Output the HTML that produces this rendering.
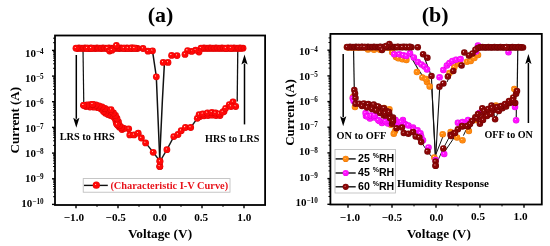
<!DOCTYPE html>
<html><head><meta charset="utf-8"><style>html,body{margin:0;padding:0;background:#fff;}svg{display:block;}</style></head><body>
<svg width="550" height="246" viewBox="0 0 550 246">
<defs>
<radialGradient id="gR" cx="0.5" cy="0.5" r="0.5" fx="0.37" fy="0.36"><stop offset="0" stop-color="#fff2d8"/><stop offset="0.28" stop-color="#ff0808"/><stop offset="0.8" stop-color="#ff0808"/><stop offset="1" stop-color="#dc0000"/></radialGradient>
<radialGradient id="gD" cx="0.5" cy="0.5" r="0.5" fx="0.37" fy="0.36"><stop offset="0" stop-color="#f8dada"/><stop offset="0.28" stop-color="#8a0606"/><stop offset="0.8" stop-color="#8a0606"/><stop offset="1" stop-color="#6a0000"/></radialGradient>
<radialGradient id="gM" cx="0.5" cy="0.5" r="0.5" fx="0.37" fy="0.36"><stop offset="0" stop-color="#ffd0ff"/><stop offset="0.28" stop-color="#ff10ff"/><stop offset="0.8" stop-color="#ff10ff"/><stop offset="1" stop-color="#e000e0"/></radialGradient>
<radialGradient id="gO" cx="0.5" cy="0.5" r="0.5" fx="0.37" fy="0.36"><stop offset="0" stop-color="#ffe0b0"/><stop offset="0.28" stop-color="#ff8a10"/><stop offset="0.8" stop-color="#ff8a10"/><stop offset="1" stop-color="#e87000"/></radialGradient>
</defs>
<rect width="550" height="246" fill="#fff"/>
<text x="160.6" y="22.2" text-anchor="middle" font-family="'Liberation Serif', 'Times New Roman', serif" font-weight="bold" font-size="22">(a)</text>
<text x="435.2" y="22.2" text-anchor="middle" font-family="'Liberation Serif', 'Times New Roman', serif" font-weight="bold" font-size="22">(b)</text>
<rect x="55.0" y="35.5" width="210.1" height="169.5" fill="none" stroke="#000" stroke-width="1.8"/>
<line x1="52.0" y1="50.4" x2="55.0" y2="50.4" stroke="#000" stroke-width="1.4"/>
<text x="43.6" y="56.6" text-anchor="end" font-family="'Liberation Serif', 'Times New Roman', serif" font-weight="bold" font-size="11">10<tspan font-size="7.2" dy="-2.9">−4</tspan></text>
<line x1="52.0" y1="76.1" x2="55.0" y2="76.1" stroke="#000" stroke-width="1.4"/>
<text x="43.6" y="81.7" text-anchor="end" font-family="'Liberation Serif', 'Times New Roman', serif" font-weight="bold" font-size="11">10<tspan font-size="7.2" dy="-2.9">−5</tspan></text>
<line x1="52.0" y1="101.7" x2="55.0" y2="101.7" stroke="#000" stroke-width="1.4"/>
<text x="43.6" y="106.8" text-anchor="end" font-family="'Liberation Serif', 'Times New Roman', serif" font-weight="bold" font-size="11">10<tspan font-size="7.2" dy="-2.9">−6</tspan></text>
<line x1="52.0" y1="127.4" x2="55.0" y2="127.4" stroke="#000" stroke-width="1.4"/>
<text x="43.6" y="132.0" text-anchor="end" font-family="'Liberation Serif', 'Times New Roman', serif" font-weight="bold" font-size="11">10<tspan font-size="7.2" dy="-2.9">−7</tspan></text>
<line x1="52.0" y1="153.1" x2="55.0" y2="153.1" stroke="#000" stroke-width="1.4"/>
<text x="43.6" y="157.1" text-anchor="end" font-family="'Liberation Serif', 'Times New Roman', serif" font-weight="bold" font-size="11">10<tspan font-size="7.2" dy="-2.9">−8</tspan></text>
<line x1="52.0" y1="178.8" x2="55.0" y2="178.8" stroke="#000" stroke-width="1.4"/>
<text x="43.6" y="182.2" text-anchor="end" font-family="'Liberation Serif', 'Times New Roman', serif" font-weight="bold" font-size="11">10<tspan font-size="7.2" dy="-2.9">−9</tspan></text>
<line x1="52.0" y1="204.4" x2="55.0" y2="204.4" stroke="#000" stroke-width="1.4"/>
<text x="43.6" y="207.3" text-anchor="end" font-family="'Liberation Serif', 'Times New Roman', serif" font-weight="bold" font-size="11">10<tspan font-size="7.2" dy="-2.9">−10</tspan></text>
<line x1="53.1" y1="68.3" x2="55.0" y2="68.3" stroke="#000" stroke-width="1.0"/>
<line x1="53.1" y1="63.8" x2="55.0" y2="63.8" stroke="#000" stroke-width="1.0"/>
<line x1="53.1" y1="60.6" x2="55.0" y2="60.6" stroke="#000" stroke-width="1.0"/>
<line x1="53.1" y1="58.1" x2="55.0" y2="58.1" stroke="#000" stroke-width="1.0"/>
<line x1="53.1" y1="56.1" x2="55.0" y2="56.1" stroke="#000" stroke-width="1.0"/>
<line x1="53.1" y1="54.4" x2="55.0" y2="54.4" stroke="#000" stroke-width="1.0"/>
<line x1="53.1" y1="52.9" x2="55.0" y2="52.9" stroke="#000" stroke-width="1.0"/>
<line x1="53.1" y1="51.6" x2="55.0" y2="51.6" stroke="#000" stroke-width="1.0"/>
<line x1="53.1" y1="94.0" x2="55.0" y2="94.0" stroke="#000" stroke-width="1.0"/>
<line x1="53.1" y1="89.5" x2="55.0" y2="89.5" stroke="#000" stroke-width="1.0"/>
<line x1="53.1" y1="86.3" x2="55.0" y2="86.3" stroke="#000" stroke-width="1.0"/>
<line x1="53.1" y1="83.8" x2="55.0" y2="83.8" stroke="#000" stroke-width="1.0"/>
<line x1="53.1" y1="81.8" x2="55.0" y2="81.8" stroke="#000" stroke-width="1.0"/>
<line x1="53.1" y1="80.0" x2="55.0" y2="80.0" stroke="#000" stroke-width="1.0"/>
<line x1="53.1" y1="78.6" x2="55.0" y2="78.6" stroke="#000" stroke-width="1.0"/>
<line x1="53.1" y1="77.2" x2="55.0" y2="77.2" stroke="#000" stroke-width="1.0"/>
<line x1="53.1" y1="119.7" x2="55.0" y2="119.7" stroke="#000" stroke-width="1.0"/>
<line x1="53.1" y1="115.2" x2="55.0" y2="115.2" stroke="#000" stroke-width="1.0"/>
<line x1="53.1" y1="112.0" x2="55.0" y2="112.0" stroke="#000" stroke-width="1.0"/>
<line x1="53.1" y1="109.5" x2="55.0" y2="109.5" stroke="#000" stroke-width="1.0"/>
<line x1="53.1" y1="107.4" x2="55.0" y2="107.4" stroke="#000" stroke-width="1.0"/>
<line x1="53.1" y1="105.7" x2="55.0" y2="105.7" stroke="#000" stroke-width="1.0"/>
<line x1="53.1" y1="104.2" x2="55.0" y2="104.2" stroke="#000" stroke-width="1.0"/>
<line x1="53.1" y1="102.9" x2="55.0" y2="102.9" stroke="#000" stroke-width="1.0"/>
<line x1="53.1" y1="145.4" x2="55.0" y2="145.4" stroke="#000" stroke-width="1.0"/>
<line x1="53.1" y1="140.8" x2="55.0" y2="140.8" stroke="#000" stroke-width="1.0"/>
<line x1="53.1" y1="137.6" x2="55.0" y2="137.6" stroke="#000" stroke-width="1.0"/>
<line x1="53.1" y1="135.1" x2="55.0" y2="135.1" stroke="#000" stroke-width="1.0"/>
<line x1="53.1" y1="133.1" x2="55.0" y2="133.1" stroke="#000" stroke-width="1.0"/>
<line x1="53.1" y1="131.4" x2="55.0" y2="131.4" stroke="#000" stroke-width="1.0"/>
<line x1="53.1" y1="129.9" x2="55.0" y2="129.9" stroke="#000" stroke-width="1.0"/>
<line x1="53.1" y1="128.6" x2="55.0" y2="128.6" stroke="#000" stroke-width="1.0"/>
<line x1="53.1" y1="171.0" x2="55.0" y2="171.0" stroke="#000" stroke-width="1.0"/>
<line x1="53.1" y1="166.5" x2="55.0" y2="166.5" stroke="#000" stroke-width="1.0"/>
<line x1="53.1" y1="163.3" x2="55.0" y2="163.3" stroke="#000" stroke-width="1.0"/>
<line x1="53.1" y1="160.8" x2="55.0" y2="160.8" stroke="#000" stroke-width="1.0"/>
<line x1="53.1" y1="158.8" x2="55.0" y2="158.8" stroke="#000" stroke-width="1.0"/>
<line x1="53.1" y1="157.1" x2="55.0" y2="157.1" stroke="#000" stroke-width="1.0"/>
<line x1="53.1" y1="155.6" x2="55.0" y2="155.6" stroke="#000" stroke-width="1.0"/>
<line x1="53.1" y1="154.3" x2="55.0" y2="154.3" stroke="#000" stroke-width="1.0"/>
<line x1="53.1" y1="196.7" x2="55.0" y2="196.7" stroke="#000" stroke-width="1.0"/>
<line x1="53.1" y1="192.2" x2="55.0" y2="192.2" stroke="#000" stroke-width="1.0"/>
<line x1="53.1" y1="189.0" x2="55.0" y2="189.0" stroke="#000" stroke-width="1.0"/>
<line x1="53.1" y1="186.5" x2="55.0" y2="186.5" stroke="#000" stroke-width="1.0"/>
<line x1="53.1" y1="184.4" x2="55.0" y2="184.4" stroke="#000" stroke-width="1.0"/>
<line x1="53.1" y1="182.7" x2="55.0" y2="182.7" stroke="#000" stroke-width="1.0"/>
<line x1="53.1" y1="181.2" x2="55.0" y2="181.2" stroke="#000" stroke-width="1.0"/>
<line x1="53.1" y1="179.9" x2="55.0" y2="179.9" stroke="#000" stroke-width="1.0"/>
<line x1="53.1" y1="42.7" x2="55.0" y2="42.7" stroke="#000" stroke-width="1.0"/>
<line x1="53.1" y1="38.2" x2="55.0" y2="38.2" stroke="#000" stroke-width="1.0"/>
<line x1="76.0" y1="205.0" x2="76.0" y2="208.2" stroke="#000" stroke-width="1.4"/>
<text x="73.9" y="220.7" text-anchor="middle" font-family="'Liberation Serif', 'Times New Roman', serif" font-weight="bold" font-size="11.2">−1.0</text>
<line x1="118.0" y1="205.0" x2="118.0" y2="208.2" stroke="#000" stroke-width="1.4"/>
<text x="115.7" y="220.7" text-anchor="middle" font-family="'Liberation Serif', 'Times New Roman', serif" font-weight="bold" font-size="11.2">−0.5</text>
<line x1="160.0" y1="205.0" x2="160.0" y2="208.2" stroke="#000" stroke-width="1.4"/>
<text x="159.8" y="220.7" text-anchor="middle" font-family="'Liberation Serif', 'Times New Roman', serif" font-weight="bold" font-size="11.2">0.0</text>
<line x1="202.0" y1="205.0" x2="202.0" y2="208.2" stroke="#000" stroke-width="1.4"/>
<text x="201.2" y="220.7" text-anchor="middle" font-family="'Liberation Serif', 'Times New Roman', serif" font-weight="bold" font-size="11.2">0.5</text>
<line x1="244.0" y1="205.0" x2="244.0" y2="208.2" stroke="#000" stroke-width="1.4"/>
<text x="244.3" y="220.7" text-anchor="middle" font-family="'Liberation Serif', 'Times New Roman', serif" font-weight="bold" font-size="11.2">1.0</text>
<line x1="97.0" y1="205.0" x2="97.0" y2="206.9" stroke="#000" stroke-width="1.0"/>
<line x1="139.0" y1="205.0" x2="139.0" y2="206.9" stroke="#000" stroke-width="1.0"/>
<line x1="181.0" y1="205.0" x2="181.0" y2="206.9" stroke="#000" stroke-width="1.0"/>
<line x1="223.0" y1="205.0" x2="223.0" y2="206.9" stroke="#000" stroke-width="1.0"/>
<text x="160" y="238" text-anchor="middle" font-family="'Liberation Serif', 'Times New Roman', serif" font-weight="bold" font-size="13.3">Voltage (V)</text>
<text transform="translate(19.4,120.2) rotate(-90)" text-anchor="middle" font-family="'Liberation Serif', 'Times New Roman', serif" font-weight="bold" font-size="13">Current (A)</text>
<polyline points="152.5,50.8 156.3,76.5 159.7,158.0" fill="none" stroke="#111" stroke-width="1.5"/>
<polyline points="164.4,63.5 162.4,100.0 159.7,158.0" fill="none" stroke="#111" stroke-width="1.5"/>
<polyline points="83.0,48.5 83.8,105.3" fill="none" stroke="#111" stroke-width="1.2"/>
<polyline points="237.8,48.5 237.2,101.5" fill="none" stroke="#111" stroke-width="1.3"/>
<polyline points="83.6,105.3 87.0,105.0 90.0,104.7 92.7,104.5 96.0,105.0 99.0,105.8 102.0,106.8 105.0,108.5 108.0,109.8 111.0,111.0 113.5,113.0 115.5,115.5 117.0,118.5 118.5,122.0 119.5,125.4 121.5,127.5 124.0,128.5 128.7,128.8 129.8,134.9 134.0,134.9 138.2,133.2 141.4,138.0 145.6,142.9 153.2,152.3 159.8,161.0 159.8,166.4" fill="none" stroke="#1a1a1a" stroke-width="1.4"/>
<polyline points="159.8,166.4 160.0,161.5 166.9,149.7 173.8,136.6 178.0,134.5 181.2,130.7 185.4,127.5 190.7,127.5 197.3,118.3 199.1,114.7 202.8,113.8 207.4,112.9 211.9,112.3 215.6,112.9 219.3,113.8 222.9,112.0 225.6,108.3 229.3,104.6 233.0,101.9 235.7,106.5 231.0,106.5" fill="none" stroke="#1a1a1a" stroke-width="1.4"/>
<line x1="76.3" y1="55" x2="76.3" y2="118.8" stroke="#000" stroke-width="1.5"/>
<path d="M76.3,127.8 L73.2,117.8 L76.3,119.8 L79.39999999999999,117.8 Z" fill="#000"/>
<line x1="244.5" y1="124.4" x2="244.5" y2="63.599999999999994" stroke="#000" stroke-width="1.5"/>
<path d="M244.5,54.6 L241.4,64.6 L244.5,62.599999999999994 L247.6,64.6 Z" fill="#000"/>
<circle cx="152.5" cy="50.8" r="3.4" fill="url(#gR)"/>
<circle cx="148.0" cy="51.2" r="3.4" fill="url(#gR)"/>
<circle cx="143.0" cy="48.5" r="3.4" fill="url(#gR)"/>
<circle cx="137.5" cy="48.5" r="3.4" fill="url(#gR)"/>
<circle cx="136.0" cy="48.2" r="3.4" fill="url(#gR)"/>
<circle cx="134.5" cy="48.3" r="3.4" fill="url(#gR)"/>
<circle cx="133.0" cy="48.0" r="3.4" fill="url(#gR)"/>
<circle cx="131.5" cy="48.5" r="3.4" fill="url(#gR)"/>
<circle cx="130.0" cy="48.2" r="3.4" fill="url(#gR)"/>
<circle cx="128.5" cy="48.3" r="3.4" fill="url(#gR)"/>
<circle cx="127.0" cy="48.0" r="3.4" fill="url(#gR)"/>
<circle cx="125.5" cy="48.5" r="3.4" fill="url(#gR)"/>
<circle cx="124.0" cy="48.2" r="3.4" fill="url(#gR)"/>
<circle cx="122.5" cy="48.3" r="3.4" fill="url(#gR)"/>
<circle cx="121.0" cy="48.0" r="3.4" fill="url(#gR)"/>
<circle cx="119.5" cy="48.5" r="3.4" fill="url(#gR)"/>
<circle cx="118.0" cy="48.2" r="3.4" fill="url(#gR)"/>
<circle cx="116.5" cy="48.3" r="3.4" fill="url(#gR)"/>
<circle cx="115.0" cy="48.0" r="3.4" fill="url(#gR)"/>
<circle cx="113.5" cy="48.5" r="3.4" fill="url(#gR)"/>
<circle cx="112.0" cy="48.2" r="3.4" fill="url(#gR)"/>
<circle cx="110.5" cy="48.3" r="3.4" fill="url(#gR)"/>
<circle cx="109.0" cy="48.0" r="3.4" fill="url(#gR)"/>
<circle cx="107.5" cy="48.5" r="3.4" fill="url(#gR)"/>
<circle cx="106.0" cy="48.2" r="3.4" fill="url(#gR)"/>
<circle cx="104.5" cy="48.3" r="3.4" fill="url(#gR)"/>
<circle cx="103.0" cy="48.0" r="3.4" fill="url(#gR)"/>
<circle cx="101.5" cy="48.5" r="3.4" fill="url(#gR)"/>
<circle cx="100.0" cy="48.2" r="3.4" fill="url(#gR)"/>
<circle cx="98.5" cy="48.3" r="3.4" fill="url(#gR)"/>
<circle cx="97.0" cy="48.0" r="3.4" fill="url(#gR)"/>
<circle cx="95.5" cy="48.5" r="3.4" fill="url(#gR)"/>
<circle cx="94.0" cy="48.2" r="3.4" fill="url(#gR)"/>
<circle cx="92.5" cy="48.3" r="3.4" fill="url(#gR)"/>
<circle cx="91.0" cy="48.0" r="3.4" fill="url(#gR)"/>
<circle cx="89.5" cy="48.5" r="3.4" fill="url(#gR)"/>
<circle cx="88.0" cy="48.2" r="3.4" fill="url(#gR)"/>
<circle cx="86.5" cy="48.3" r="3.4" fill="url(#gR)"/>
<circle cx="85.0" cy="48.0" r="3.4" fill="url(#gR)"/>
<circle cx="83.5" cy="48.5" r="3.4" fill="url(#gR)"/>
<circle cx="82.0" cy="48.2" r="3.4" fill="url(#gR)"/>
<circle cx="80.5" cy="48.3" r="3.4" fill="url(#gR)"/>
<circle cx="79.0" cy="48.0" r="3.4" fill="url(#gR)"/>
<circle cx="77.5" cy="48.5" r="3.4" fill="url(#gR)"/>
<circle cx="76.0" cy="48.2" r="3.4" fill="url(#gR)"/>
<circle cx="87.2" cy="48.2" r="3.4" fill="url(#gR)"/>
<circle cx="91.3" cy="48.3" r="3.4" fill="url(#gR)"/>
<circle cx="107.6" cy="48.4" r="3.4" fill="url(#gR)"/>
<circle cx="124.0" cy="48.2" r="3.4" fill="url(#gR)"/>
<circle cx="128.0" cy="48.3" r="3.4" fill="url(#gR)"/>
<circle cx="131.4" cy="48.0" r="3.4" fill="url(#gR)"/>
<circle cx="134.6" cy="48.2" r="3.4" fill="url(#gR)"/>
<circle cx="109.6" cy="51.0" r="3.4" fill="url(#gR)"/>
<circle cx="116.4" cy="45.5" r="3.4" fill="url(#gR)"/>
<circle cx="112.0" cy="50.2" r="3.4" fill="url(#gR)"/>
<circle cx="156.3" cy="76.8" r="3.4" fill="url(#gR)"/>
<circle cx="122.0" cy="129.5" r="3.4" fill="url(#gR)"/>
<circle cx="119.5" cy="127.2" r="3.4" fill="url(#gR)"/>
<circle cx="118.0" cy="125.5" r="3.4" fill="url(#gR)"/>
<circle cx="116.5" cy="123.5" r="3.4" fill="url(#gR)"/>
<circle cx="116.0" cy="121.5" r="3.4" fill="url(#gR)"/>
<circle cx="115.0" cy="118.6" r="3.4" fill="url(#gR)"/>
<circle cx="113.0" cy="116.5" r="3.4" fill="url(#gR)"/>
<circle cx="110.5" cy="115.6" r="3.4" fill="url(#gR)"/>
<circle cx="108.0" cy="114.5" r="3.4" fill="url(#gR)"/>
<circle cx="105.5" cy="113.2" r="3.4" fill="url(#gR)"/>
<circle cx="103.5" cy="111.5" r="3.4" fill="url(#gR)"/>
<circle cx="101.0" cy="109.0" r="3.4" fill="url(#gR)"/>
<circle cx="98.0" cy="107.7" r="3.4" fill="url(#gR)"/>
<circle cx="94.0" cy="107.2" r="3.4" fill="url(#gR)"/>
<circle cx="90.0" cy="107.0" r="3.4" fill="url(#gR)"/>
<circle cx="86.0" cy="106.5" r="3.4" fill="url(#gR)"/>
<circle cx="128.7" cy="128.8" r="3.4" fill="url(#gR)"/>
<circle cx="124.0" cy="128.5" r="3.4" fill="url(#gR)"/>
<circle cx="121.5" cy="127.5" r="3.4" fill="url(#gR)"/>
<circle cx="119.5" cy="125.4" r="3.4" fill="url(#gR)"/>
<circle cx="118.5" cy="122.0" r="3.4" fill="url(#gR)"/>
<circle cx="117.0" cy="118.5" r="3.4" fill="url(#gR)"/>
<circle cx="115.5" cy="115.5" r="3.4" fill="url(#gR)"/>
<circle cx="113.5" cy="113.0" r="3.4" fill="url(#gR)"/>
<circle cx="111.0" cy="111.0" r="3.4" fill="url(#gR)"/>
<circle cx="108.0" cy="109.8" r="3.4" fill="url(#gR)"/>
<circle cx="105.0" cy="108.5" r="3.4" fill="url(#gR)"/>
<circle cx="102.0" cy="106.8" r="3.4" fill="url(#gR)"/>
<circle cx="99.0" cy="105.8" r="3.4" fill="url(#gR)"/>
<circle cx="96.0" cy="105.0" r="3.4" fill="url(#gR)"/>
<circle cx="92.7" cy="104.5" r="3.4" fill="url(#gR)"/>
<circle cx="90.0" cy="104.7" r="3.4" fill="url(#gR)"/>
<circle cx="87.0" cy="105.0" r="3.4" fill="url(#gR)"/>
<circle cx="83.6" cy="105.3" r="3.4" fill="url(#gR)"/>
<circle cx="129.8" cy="134.9" r="3.4" fill="url(#gR)"/>
<circle cx="134.0" cy="134.9" r="3.4" fill="url(#gR)"/>
<circle cx="138.2" cy="133.2" r="3.4" fill="url(#gR)"/>
<circle cx="141.4" cy="138.0" r="3.4" fill="url(#gR)"/>
<circle cx="145.6" cy="142.9" r="3.4" fill="url(#gR)"/>
<circle cx="153.2" cy="152.3" r="3.4" fill="url(#gR)"/>
<circle cx="159.8" cy="161.0" r="3.4" fill="url(#gR)"/>
<circle cx="159.8" cy="166.4" r="3.4" fill="url(#gR)"/>
<circle cx="83.6" cy="105.3" r="3.4" fill="url(#gR)"/>
<circle cx="92.7" cy="104.3" r="3.4" fill="url(#gR)"/>
<circle cx="111.0" cy="109.6" r="3.4" fill="url(#gR)"/>
<circle cx="117.1" cy="124.5" r="3.4" fill="url(#gR)"/>
<circle cx="200.0" cy="116.5" r="3.4" fill="url(#gR)"/>
<circle cx="204.0" cy="115.8" r="3.4" fill="url(#gR)"/>
<circle cx="208.0" cy="115.5" r="3.4" fill="url(#gR)"/>
<circle cx="212.0" cy="115.2" r="3.4" fill="url(#gR)"/>
<circle cx="216.0" cy="115.5" r="3.4" fill="url(#gR)"/>
<circle cx="220.0" cy="115.5" r="3.4" fill="url(#gR)"/>
<circle cx="224.0" cy="111.5" r="3.4" fill="url(#gR)"/>
<circle cx="159.8" cy="166.4" r="3.4" fill="url(#gR)"/>
<circle cx="160.0" cy="161.5" r="3.4" fill="url(#gR)"/>
<circle cx="166.9" cy="149.7" r="3.4" fill="url(#gR)"/>
<circle cx="173.8" cy="136.6" r="3.4" fill="url(#gR)"/>
<circle cx="178.0" cy="134.5" r="3.4" fill="url(#gR)"/>
<circle cx="181.2" cy="130.7" r="3.4" fill="url(#gR)"/>
<circle cx="185.4" cy="127.5" r="3.4" fill="url(#gR)"/>
<circle cx="190.7" cy="127.5" r="3.4" fill="url(#gR)"/>
<circle cx="197.3" cy="118.3" r="3.4" fill="url(#gR)"/>
<circle cx="199.1" cy="114.7" r="3.4" fill="url(#gR)"/>
<circle cx="202.8" cy="113.8" r="3.4" fill="url(#gR)"/>
<circle cx="207.4" cy="112.9" r="3.4" fill="url(#gR)"/>
<circle cx="211.9" cy="112.3" r="3.4" fill="url(#gR)"/>
<circle cx="215.6" cy="112.9" r="3.4" fill="url(#gR)"/>
<circle cx="219.3" cy="113.8" r="3.4" fill="url(#gR)"/>
<circle cx="222.9" cy="112.0" r="3.4" fill="url(#gR)"/>
<circle cx="225.6" cy="108.3" r="3.4" fill="url(#gR)"/>
<circle cx="229.3" cy="104.6" r="3.4" fill="url(#gR)"/>
<circle cx="233.0" cy="101.9" r="3.4" fill="url(#gR)"/>
<circle cx="235.7" cy="106.5" r="3.4" fill="url(#gR)"/>
<circle cx="231.0" cy="106.5" r="3.4" fill="url(#gR)"/>
<circle cx="243.0" cy="48.2" r="3.4" fill="url(#gR)"/>
<circle cx="241.5" cy="48.3" r="3.4" fill="url(#gR)"/>
<circle cx="240.0" cy="48.0" r="3.4" fill="url(#gR)"/>
<circle cx="238.5" cy="48.4" r="3.4" fill="url(#gR)"/>
<circle cx="237.0" cy="48.2" r="3.4" fill="url(#gR)"/>
<circle cx="235.5" cy="48.3" r="3.4" fill="url(#gR)"/>
<circle cx="234.0" cy="48.0" r="3.4" fill="url(#gR)"/>
<circle cx="232.5" cy="48.4" r="3.4" fill="url(#gR)"/>
<circle cx="231.0" cy="48.2" r="3.4" fill="url(#gR)"/>
<circle cx="229.5" cy="48.3" r="3.4" fill="url(#gR)"/>
<circle cx="228.0" cy="48.0" r="3.4" fill="url(#gR)"/>
<circle cx="226.5" cy="48.4" r="3.4" fill="url(#gR)"/>
<circle cx="225.0" cy="48.2" r="3.4" fill="url(#gR)"/>
<circle cx="223.5" cy="48.3" r="3.4" fill="url(#gR)"/>
<circle cx="222.0" cy="48.0" r="3.4" fill="url(#gR)"/>
<circle cx="220.5" cy="48.4" r="3.4" fill="url(#gR)"/>
<circle cx="219.0" cy="48.2" r="3.4" fill="url(#gR)"/>
<circle cx="217.5" cy="48.3" r="3.4" fill="url(#gR)"/>
<circle cx="216.0" cy="48.0" r="3.4" fill="url(#gR)"/>
<circle cx="214.5" cy="48.4" r="3.4" fill="url(#gR)"/>
<circle cx="213.0" cy="48.2" r="3.4" fill="url(#gR)"/>
<circle cx="211.5" cy="48.3" r="3.4" fill="url(#gR)"/>
<circle cx="210.0" cy="48.0" r="3.4" fill="url(#gR)"/>
<circle cx="208.5" cy="48.4" r="3.4" fill="url(#gR)"/>
<circle cx="207.0" cy="48.2" r="3.4" fill="url(#gR)"/>
<circle cx="205.5" cy="48.3" r="3.4" fill="url(#gR)"/>
<circle cx="204.0" cy="48.0" r="3.4" fill="url(#gR)"/>
<circle cx="202.5" cy="48.4" r="3.4" fill="url(#gR)"/>
<circle cx="201.0" cy="48.2" r="3.4" fill="url(#gR)"/>
<circle cx="226.0" cy="48.3" r="3.4" fill="url(#gR)"/>
<circle cx="231.0" cy="48.2" r="3.4" fill="url(#gR)"/>
<circle cx="199.0" cy="52.0" r="3.4" fill="url(#gR)"/>
<circle cx="195.6" cy="50.2" r="3.4" fill="url(#gR)"/>
<circle cx="191.6" cy="51.4" r="3.4" fill="url(#gR)"/>
<circle cx="187.6" cy="50.6" r="3.4" fill="url(#gR)"/>
<circle cx="185.0" cy="54.4" r="3.4" fill="url(#gR)"/>
<circle cx="177.0" cy="55.6" r="3.4" fill="url(#gR)"/>
<circle cx="171.6" cy="55.4" r="3.4" fill="url(#gR)"/>
<circle cx="168.0" cy="62.4" r="3.4" fill="url(#gR)"/>
<circle cx="163.2" cy="62.4" r="3.4" fill="url(#gR)"/>
<text x="59.7" y="139.8" font-family="'Liberation Serif', 'Times New Roman', serif" font-weight="bold" font-size="10.3">LRS to HRS</text>
<text x="205" y="141.6" font-family="'Liberation Serif', 'Times New Roman', serif" font-weight="bold" font-size="10.2">HRS to LRS</text>
<rect x="83.2" y="178.6" width="146.8" height="13.6" fill="#fff" stroke="#b8b8b8" stroke-width="0.8"/>
<line x1="84" y1="185.4" x2="107.8" y2="185.4" stroke="#111" stroke-width="1.4"/>
<circle cx="96.3" cy="185.2" r="3.6" fill="url(#gR)"/>
<text x="110.4" y="189.2" font-family="'Liberation Serif', 'Times New Roman', serif" font-weight="bold" font-size="10.37" fill="#e8141c">(Characteristic I-V Curve)</text>
<rect x="330.4" y="33.9" width="211.4" height="170.6" fill="none" stroke="#000" stroke-width="1.8"/>
<line x1="327.4" y1="50.2" x2="330.4" y2="50.2" stroke="#000" stroke-width="1.4"/>
<text x="317.8" y="54.9" text-anchor="end" font-family="'Liberation Serif', 'Times New Roman', serif" font-weight="bold" font-size="11">10<tspan font-size="7.2" dy="-2.9">−4</tspan></text>
<line x1="327.4" y1="75.9" x2="330.4" y2="75.9" stroke="#000" stroke-width="1.4"/>
<text x="317.8" y="80.0" text-anchor="end" font-family="'Liberation Serif', 'Times New Roman', serif" font-weight="bold" font-size="11">10<tspan font-size="7.2" dy="-2.9">−5</tspan></text>
<line x1="327.4" y1="101.6" x2="330.4" y2="101.6" stroke="#000" stroke-width="1.4"/>
<text x="317.8" y="105.2" text-anchor="end" font-family="'Liberation Serif', 'Times New Roman', serif" font-weight="bold" font-size="11">10<tspan font-size="7.2" dy="-2.9">−6</tspan></text>
<line x1="327.4" y1="127.2" x2="330.4" y2="127.2" stroke="#000" stroke-width="1.4"/>
<text x="317.8" y="130.3" text-anchor="end" font-family="'Liberation Serif', 'Times New Roman', serif" font-weight="bold" font-size="11">10<tspan font-size="7.2" dy="-2.9">−7</tspan></text>
<line x1="327.4" y1="152.9" x2="330.4" y2="152.9" stroke="#000" stroke-width="1.4"/>
<text x="317.8" y="155.4" text-anchor="end" font-family="'Liberation Serif', 'Times New Roman', serif" font-weight="bold" font-size="11">10<tspan font-size="7.2" dy="-2.9">−8</tspan></text>
<line x1="327.4" y1="178.6" x2="330.4" y2="178.6" stroke="#000" stroke-width="1.4"/>
<text x="317.8" y="180.6" text-anchor="end" font-family="'Liberation Serif', 'Times New Roman', serif" font-weight="bold" font-size="11">10<tspan font-size="7.2" dy="-2.9">−9</tspan></text>
<line x1="327.4" y1="204.3" x2="330.4" y2="204.3" stroke="#000" stroke-width="1.4"/>
<text x="317.8" y="205.7" text-anchor="end" font-family="'Liberation Serif', 'Times New Roman', serif" font-weight="bold" font-size="11">10<tspan font-size="7.2" dy="-2.9">−10</tspan></text>
<line x1="328.5" y1="68.1" x2="330.4" y2="68.1" stroke="#000" stroke-width="1.0"/>
<line x1="328.5" y1="63.6" x2="330.4" y2="63.6" stroke="#000" stroke-width="1.0"/>
<line x1="328.5" y1="60.4" x2="330.4" y2="60.4" stroke="#000" stroke-width="1.0"/>
<line x1="328.5" y1="57.9" x2="330.4" y2="57.9" stroke="#000" stroke-width="1.0"/>
<line x1="328.5" y1="55.9" x2="330.4" y2="55.9" stroke="#000" stroke-width="1.0"/>
<line x1="328.5" y1="54.2" x2="330.4" y2="54.2" stroke="#000" stroke-width="1.0"/>
<line x1="328.5" y1="52.7" x2="330.4" y2="52.7" stroke="#000" stroke-width="1.0"/>
<line x1="328.5" y1="51.4" x2="330.4" y2="51.4" stroke="#000" stroke-width="1.0"/>
<line x1="328.5" y1="93.8" x2="330.4" y2="93.8" stroke="#000" stroke-width="1.0"/>
<line x1="328.5" y1="89.3" x2="330.4" y2="89.3" stroke="#000" stroke-width="1.0"/>
<line x1="328.5" y1="86.1" x2="330.4" y2="86.1" stroke="#000" stroke-width="1.0"/>
<line x1="328.5" y1="83.6" x2="330.4" y2="83.6" stroke="#000" stroke-width="1.0"/>
<line x1="328.5" y1="81.6" x2="330.4" y2="81.6" stroke="#000" stroke-width="1.0"/>
<line x1="328.5" y1="79.9" x2="330.4" y2="79.9" stroke="#000" stroke-width="1.0"/>
<line x1="328.5" y1="78.4" x2="330.4" y2="78.4" stroke="#000" stroke-width="1.0"/>
<line x1="328.5" y1="77.1" x2="330.4" y2="77.1" stroke="#000" stroke-width="1.0"/>
<line x1="328.5" y1="119.5" x2="330.4" y2="119.5" stroke="#000" stroke-width="1.0"/>
<line x1="328.5" y1="115.0" x2="330.4" y2="115.0" stroke="#000" stroke-width="1.0"/>
<line x1="328.5" y1="111.8" x2="330.4" y2="111.8" stroke="#000" stroke-width="1.0"/>
<line x1="328.5" y1="109.3" x2="330.4" y2="109.3" stroke="#000" stroke-width="1.0"/>
<line x1="328.5" y1="107.3" x2="330.4" y2="107.3" stroke="#000" stroke-width="1.0"/>
<line x1="328.5" y1="105.5" x2="330.4" y2="105.5" stroke="#000" stroke-width="1.0"/>
<line x1="328.5" y1="104.0" x2="330.4" y2="104.0" stroke="#000" stroke-width="1.0"/>
<line x1="328.5" y1="102.7" x2="330.4" y2="102.7" stroke="#000" stroke-width="1.0"/>
<line x1="328.5" y1="145.2" x2="330.4" y2="145.2" stroke="#000" stroke-width="1.0"/>
<line x1="328.5" y1="140.7" x2="330.4" y2="140.7" stroke="#000" stroke-width="1.0"/>
<line x1="328.5" y1="137.5" x2="330.4" y2="137.5" stroke="#000" stroke-width="1.0"/>
<line x1="328.5" y1="135.0" x2="330.4" y2="135.0" stroke="#000" stroke-width="1.0"/>
<line x1="328.5" y1="132.9" x2="330.4" y2="132.9" stroke="#000" stroke-width="1.0"/>
<line x1="328.5" y1="131.2" x2="330.4" y2="131.2" stroke="#000" stroke-width="1.0"/>
<line x1="328.5" y1="129.7" x2="330.4" y2="129.7" stroke="#000" stroke-width="1.0"/>
<line x1="328.5" y1="128.4" x2="330.4" y2="128.4" stroke="#000" stroke-width="1.0"/>
<line x1="328.5" y1="170.9" x2="330.4" y2="170.9" stroke="#000" stroke-width="1.0"/>
<line x1="328.5" y1="166.3" x2="330.4" y2="166.3" stroke="#000" stroke-width="1.0"/>
<line x1="328.5" y1="163.1" x2="330.4" y2="163.1" stroke="#000" stroke-width="1.0"/>
<line x1="328.5" y1="160.7" x2="330.4" y2="160.7" stroke="#000" stroke-width="1.0"/>
<line x1="328.5" y1="158.6" x2="330.4" y2="158.6" stroke="#000" stroke-width="1.0"/>
<line x1="328.5" y1="156.9" x2="330.4" y2="156.9" stroke="#000" stroke-width="1.0"/>
<line x1="328.5" y1="155.4" x2="330.4" y2="155.4" stroke="#000" stroke-width="1.0"/>
<line x1="328.5" y1="154.1" x2="330.4" y2="154.1" stroke="#000" stroke-width="1.0"/>
<line x1="328.5" y1="196.5" x2="330.4" y2="196.5" stroke="#000" stroke-width="1.0"/>
<line x1="328.5" y1="192.0" x2="330.4" y2="192.0" stroke="#000" stroke-width="1.0"/>
<line x1="328.5" y1="188.8" x2="330.4" y2="188.8" stroke="#000" stroke-width="1.0"/>
<line x1="328.5" y1="186.3" x2="330.4" y2="186.3" stroke="#000" stroke-width="1.0"/>
<line x1="328.5" y1="184.3" x2="330.4" y2="184.3" stroke="#000" stroke-width="1.0"/>
<line x1="328.5" y1="182.6" x2="330.4" y2="182.6" stroke="#000" stroke-width="1.0"/>
<line x1="328.5" y1="181.1" x2="330.4" y2="181.1" stroke="#000" stroke-width="1.0"/>
<line x1="328.5" y1="179.8" x2="330.4" y2="179.8" stroke="#000" stroke-width="1.0"/>
<line x1="328.5" y1="42.5" x2="330.4" y2="42.5" stroke="#000" stroke-width="1.0"/>
<line x1="328.5" y1="37.9" x2="330.4" y2="37.9" stroke="#000" stroke-width="1.0"/>
<line x1="348.0" y1="204.5" x2="348.0" y2="207.7" stroke="#000" stroke-width="1.4"/>
<text x="349.9" y="220.6" text-anchor="middle" font-family="'Liberation Serif', 'Times New Roman', serif" font-weight="bold" font-size="11.2">−1.0</text>
<line x1="392.0" y1="204.5" x2="392.0" y2="207.7" stroke="#000" stroke-width="1.4"/>
<text x="391.9" y="220.6" text-anchor="middle" font-family="'Liberation Serif', 'Times New Roman', serif" font-weight="bold" font-size="11.2">−0.5</text>
<line x1="436.0" y1="204.5" x2="436.0" y2="207.7" stroke="#000" stroke-width="1.4"/>
<text x="436.4" y="220.7" text-anchor="middle" font-family="'Liberation Serif', 'Times New Roman', serif" font-weight="bold" font-size="11.2">0.0</text>
<line x1="480.0" y1="204.5" x2="480.0" y2="207.7" stroke="#000" stroke-width="1.4"/>
<text x="478.0" y="219.6" text-anchor="middle" font-family="'Liberation Serif', 'Times New Roman', serif" font-weight="bold" font-size="11.2">0.5</text>
<line x1="524.0" y1="204.5" x2="524.0" y2="207.7" stroke="#000" stroke-width="1.4"/>
<text x="520.6" y="220.2" text-anchor="middle" font-family="'Liberation Serif', 'Times New Roman', serif" font-weight="bold" font-size="11.2">1.0</text>
<line x1="370.0" y1="204.5" x2="370.0" y2="206.4" stroke="#000" stroke-width="1.0"/>
<line x1="414.0" y1="204.5" x2="414.0" y2="206.4" stroke="#000" stroke-width="1.0"/>
<line x1="458.0" y1="204.5" x2="458.0" y2="206.4" stroke="#000" stroke-width="1.0"/>
<line x1="502.0" y1="204.5" x2="502.0" y2="206.4" stroke="#000" stroke-width="1.0"/>
<text x="438.8" y="238" text-anchor="middle" font-family="'Liberation Serif', 'Times New Roman', serif" font-weight="bold" font-size="13.3">Voltage (V)</text>
<text transform="translate(294,112.5) rotate(-90)" text-anchor="middle" font-family="'Liberation Serif', 'Times New Roman', serif" font-weight="bold" font-size="13">Current (A)</text>
<polyline points="410.5,56.0 418.0,69.0 424.0,78.0 431.9,88.8 435.6,160.0" fill="none" stroke="#111" stroke-width="1.1"/>
<polyline points="423.0,54.0 431.4,76.0 433.4,120.0 435.6,160.0" fill="none" stroke="#111" stroke-width="1.1"/>
<polyline points="439.6,89.6 437.8,120.0 435.6,160.0" fill="none" stroke="#111" stroke-width="1.1"/>
<polyline points="457.0,61.0 447.0,82.0" fill="none" stroke="#111" stroke-width="1.0"/>
<polyline points="353.5,47.0 354.3,90.0" fill="none" stroke="#111" stroke-width="1.2"/>
<polyline points="517.8,47.5 517.2,91.0" fill="none" stroke="#111" stroke-width="1.2"/>
<polyline points="516.4,106.0 516.2,120.0" fill="none" stroke="#111" stroke-width="1.1"/>
<polyline points="436.0,154.0 443.3,135.6" fill="none" stroke="#111" stroke-width="1.0"/>
<polyline points="443.0,154.0 454.3,137.4" fill="none" stroke="#111" stroke-width="1.0"/>
<polyline points="463.4,135.6 466.0,130.0" fill="none" stroke="#111" stroke-width="1.0"/>
<polyline points="354.3,90.0 355.0,93.4 355.5,98.0 355.5,103.8 359.2,103.8 363.8,103.4 368.3,104.1 372.9,105.2 376.6,106.5 380.2,108.3 383.9,108.3 386.6,111.0 389.4,114.7 393.0,117.5 392.0,123.8 396.5,128.3 402.0,127.4 403.8,132.9 408.4,133.8 413.0,132.0 415.7,136.6 419.4,137.5 421.2,142.0 427.5,151.5 435.6,161.6 435.6,165.7" fill="none" stroke="#222" stroke-width="1.0"/>
<polyline points="435.6,165.7 443.3,148.4 450.6,134.7 454.3,132.9 457.9,129.2 462.5,126.5 468.0,126.5 475.3,117.3 479.9,123.7 476.8,118.4 481.4,116.6 482.3,108.3 486.0,112.9 491.5,105.6 493.3,110.2 495.1,119.3 498.8,111.1 502.4,108.3 506.1,106.5 509.7,102.9 512.5,101.9 515.2,102.9 513.4,97.4 516.1,93.7 517.0,91.0" fill="none" stroke="#222" stroke-width="1.0"/>
<line x1="343.2" y1="54" x2="343.2" y2="117.3" stroke="#000" stroke-width="1.5"/>
<path d="M343.2,126.3 L340.09999999999997,116.3 L343.2,118.3 L346.3,116.3 Z" fill="#000"/>
<line x1="528.4" y1="123" x2="528.4" y2="63" stroke="#000" stroke-width="1.5"/>
<path d="M528.4,54 L525.3,64 L528.4,62 L531.5,64 Z" fill="#000"/>
<circle cx="347.0" cy="47.2" r="3.25" fill="url(#gO)"/>
<circle cx="348.6" cy="47.5" r="3.25" fill="url(#gO)"/>
<circle cx="350.2" cy="47.3" r="3.25" fill="url(#gO)"/>
<circle cx="351.8" cy="47.4" r="3.25" fill="url(#gO)"/>
<circle cx="353.4" cy="47.2" r="3.25" fill="url(#gO)"/>
<circle cx="355.0" cy="47.5" r="3.25" fill="url(#gO)"/>
<circle cx="356.6" cy="47.3" r="3.25" fill="url(#gO)"/>
<circle cx="358.2" cy="47.4" r="3.25" fill="url(#gO)"/>
<circle cx="359.8" cy="47.2" r="3.25" fill="url(#gO)"/>
<circle cx="361.4" cy="47.5" r="3.25" fill="url(#gO)"/>
<circle cx="363.0" cy="47.3" r="3.25" fill="url(#gO)"/>
<circle cx="364.6" cy="47.4" r="3.25" fill="url(#gO)"/>
<circle cx="366.2" cy="47.2" r="3.25" fill="url(#gO)"/>
<circle cx="367.8" cy="47.5" r="3.25" fill="url(#gO)"/>
<circle cx="369.4" cy="47.3" r="3.25" fill="url(#gO)"/>
<circle cx="371.0" cy="47.4" r="3.25" fill="url(#gO)"/>
<circle cx="372.6" cy="47.2" r="3.25" fill="url(#gO)"/>
<circle cx="374.2" cy="47.5" r="3.25" fill="url(#gO)"/>
<circle cx="375.8" cy="47.3" r="3.25" fill="url(#gO)"/>
<circle cx="377.4" cy="47.4" r="3.25" fill="url(#gO)"/>
<circle cx="379.0" cy="47.2" r="3.25" fill="url(#gO)"/>
<circle cx="380.6" cy="47.5" r="3.25" fill="url(#gO)"/>
<circle cx="382.2" cy="47.3" r="3.25" fill="url(#gO)"/>
<circle cx="383.8" cy="47.4" r="3.25" fill="url(#gO)"/>
<circle cx="385.4" cy="47.2" r="3.25" fill="url(#gO)"/>
<circle cx="387.0" cy="47.5" r="3.25" fill="url(#gO)"/>
<circle cx="388.6" cy="47.3" r="3.25" fill="url(#gO)"/>
<circle cx="390.2" cy="47.4" r="3.25" fill="url(#gO)"/>
<circle cx="391.8" cy="47.2" r="3.25" fill="url(#gO)"/>
<circle cx="368.0" cy="49.6" r="3.25" fill="url(#gO)"/>
<circle cx="374.0" cy="49.8" r="3.25" fill="url(#gO)"/>
<circle cx="380.0" cy="49.8" r="3.25" fill="url(#gO)"/>
<circle cx="392.2" cy="52.2" r="3.25" fill="url(#gO)"/>
<circle cx="396.0" cy="57.0" r="3.25" fill="url(#gO)"/>
<circle cx="398.3" cy="58.3" r="3.25" fill="url(#gO)"/>
<circle cx="402.4" cy="59.3" r="3.25" fill="url(#gO)"/>
<circle cx="406.4" cy="60.0" r="3.25" fill="url(#gO)"/>
<circle cx="416.9" cy="72.0" r="3.25" fill="url(#gO)"/>
<circle cx="422.4" cy="77.4" r="3.25" fill="url(#gO)"/>
<circle cx="427.0" cy="82.0" r="3.25" fill="url(#gO)"/>
<circle cx="429.7" cy="86.6" r="3.25" fill="url(#gO)"/>
<circle cx="353.0" cy="97.0" r="3.25" fill="url(#gO)"/>
<circle cx="355.0" cy="107.0" r="3.25" fill="url(#gO)"/>
<circle cx="372.0" cy="106.0" r="3.25" fill="url(#gO)"/>
<circle cx="384.0" cy="108.0" r="3.25" fill="url(#gO)"/>
<circle cx="389.4" cy="109.3" r="3.25" fill="url(#gO)"/>
<circle cx="391.0" cy="124.7" r="3.25" fill="url(#gO)"/>
<circle cx="395.0" cy="131.0" r="3.25" fill="url(#gO)"/>
<circle cx="393.8" cy="133.8" r="3.25" fill="url(#gO)"/>
<circle cx="442.7" cy="134.2" r="3.25" fill="url(#gO)"/>
<circle cx="450.6" cy="131.9" r="3.25" fill="url(#gO)"/>
<circle cx="457.0" cy="137.4" r="3.25" fill="url(#gO)"/>
<circle cx="462.5" cy="140.2" r="3.25" fill="url(#gO)"/>
<circle cx="468.9" cy="131.0" r="3.25" fill="url(#gO)"/>
<circle cx="476.0" cy="120.0" r="3.25" fill="url(#gO)"/>
<circle cx="496.0" cy="105.6" r="3.25" fill="url(#gO)"/>
<circle cx="513.0" cy="98.0" r="3.25" fill="url(#gO)"/>
<circle cx="514.3" cy="89.1" r="3.25" fill="url(#gO)"/>
<circle cx="449.5" cy="73.0" r="3.25" fill="url(#gO)"/>
<circle cx="454.3" cy="67.3" r="3.25" fill="url(#gO)"/>
<circle cx="458.5" cy="63.5" r="3.25" fill="url(#gO)"/>
<circle cx="460.0" cy="64.0" r="3.25" fill="url(#gO)"/>
<circle cx="467.0" cy="61.8" r="3.25" fill="url(#gO)"/>
<circle cx="470.7" cy="60.9" r="3.25" fill="url(#gO)"/>
<circle cx="474.4" cy="58.1" r="3.25" fill="url(#gO)"/>
<circle cx="478.0" cy="55.0" r="3.25" fill="url(#gO)"/>
<circle cx="426.0" cy="79.0" r="3.25" fill="url(#gO)"/>
<circle cx="434.3" cy="157.5" r="3.25" fill="url(#gO)"/>
<circle cx="394.2" cy="54.2" r="3.25" fill="url(#gM)"/>
<circle cx="399.3" cy="54.2" r="3.25" fill="url(#gM)"/>
<circle cx="403.4" cy="55.3" r="3.25" fill="url(#gM)"/>
<circle cx="406.4" cy="55.9" r="3.25" fill="url(#gM)"/>
<circle cx="410.0" cy="53.2" r="3.25" fill="url(#gM)"/>
<circle cx="413.8" cy="57.5" r="3.25" fill="url(#gM)"/>
<circle cx="417.8" cy="61.9" r="3.25" fill="url(#gM)"/>
<circle cx="421.5" cy="64.5" r="3.25" fill="url(#gM)"/>
<circle cx="424.5" cy="66.5" r="3.25" fill="url(#gM)"/>
<circle cx="427.0" cy="69.5" r="3.25" fill="url(#gM)"/>
<circle cx="366.0" cy="116.0" r="3.25" fill="url(#gM)"/>
<circle cx="370.0" cy="118.5" r="3.25" fill="url(#gM)"/>
<circle cx="382.0" cy="123.0" r="3.25" fill="url(#gM)"/>
<circle cx="388.0" cy="123.5" r="3.25" fill="url(#gM)"/>
<circle cx="398.0" cy="123.0" r="3.25" fill="url(#gM)"/>
<circle cx="405.0" cy="124.0" r="3.25" fill="url(#gM)"/>
<circle cx="352.8" cy="98.3" r="3.25" fill="url(#gM)"/>
<circle cx="353.7" cy="101.0" r="3.25" fill="url(#gM)"/>
<circle cx="365.6" cy="112.9" r="3.25" fill="url(#gM)"/>
<circle cx="367.4" cy="116.6" r="3.25" fill="url(#gM)"/>
<circle cx="371.0" cy="115.6" r="3.25" fill="url(#gM)"/>
<circle cx="374.7" cy="117.5" r="3.25" fill="url(#gM)"/>
<circle cx="379.3" cy="121.1" r="3.25" fill="url(#gM)"/>
<circle cx="378.2" cy="120.1" r="3.25" fill="url(#gM)"/>
<circle cx="374.6" cy="115.5" r="3.25" fill="url(#gM)"/>
<circle cx="385.5" cy="121.0" r="3.25" fill="url(#gM)"/>
<circle cx="390.0" cy="121.0" r="3.25" fill="url(#gM)"/>
<circle cx="395.6" cy="120.1" r="3.25" fill="url(#gM)"/>
<circle cx="402.9" cy="120.1" r="3.25" fill="url(#gM)"/>
<circle cx="401.0" cy="122.0" r="3.25" fill="url(#gM)"/>
<circle cx="408.4" cy="125.6" r="3.25" fill="url(#gM)"/>
<circle cx="413.0" cy="127.4" r="3.25" fill="url(#gM)"/>
<circle cx="413.3" cy="129.1" r="3.25" fill="url(#gM)"/>
<circle cx="417.5" cy="130.2" r="3.25" fill="url(#gM)"/>
<circle cx="420.4" cy="133.2" r="3.25" fill="url(#gM)"/>
<circle cx="421.2" cy="136.6" r="3.25" fill="url(#gM)"/>
<circle cx="423.0" cy="140.2" r="3.25" fill="url(#gM)"/>
<circle cx="428.5" cy="147.4" r="3.25" fill="url(#gM)"/>
<circle cx="435.6" cy="160.0" r="3.25" fill="url(#gM)"/>
<circle cx="444.2" cy="153.9" r="3.25" fill="url(#gM)"/>
<circle cx="457.9" cy="122.8" r="3.25" fill="url(#gM)"/>
<circle cx="462.5" cy="121.9" r="3.25" fill="url(#gM)"/>
<circle cx="468.0" cy="120.0" r="3.25" fill="url(#gM)"/>
<circle cx="478.9" cy="113.4" r="3.25" fill="url(#gM)"/>
<circle cx="479.9" cy="112.7" r="3.25" fill="url(#gM)"/>
<circle cx="478.7" cy="113.8" r="3.25" fill="url(#gM)"/>
<circle cx="515.0" cy="107.0" r="3.25" fill="url(#gM)"/>
<circle cx="516.1" cy="120.2" r="3.25" fill="url(#gM)"/>
<circle cx="439.6" cy="77.3" r="3.25" fill="url(#gM)"/>
<circle cx="443.3" cy="70.0" r="3.25" fill="url(#gM)"/>
<circle cx="446.9" cy="65.4" r="3.25" fill="url(#gM)"/>
<circle cx="449.5" cy="63.0" r="3.25" fill="url(#gM)"/>
<circle cx="452.4" cy="60.9" r="3.25" fill="url(#gM)"/>
<circle cx="456.0" cy="59.8" r="3.25" fill="url(#gM)"/>
<circle cx="460.6" cy="59.0" r="3.25" fill="url(#gM)"/>
<circle cx="476.0" cy="51.5" r="3.25" fill="url(#gM)"/>
<circle cx="478.0" cy="45.5" r="3.25" fill="url(#gM)"/>
<circle cx="508.5" cy="52.3" r="3.25" fill="url(#gM)"/>
<circle cx="411.5" cy="47.2" r="3.25" fill="url(#gD)"/>
<circle cx="410.0" cy="46.7" r="3.25" fill="url(#gD)"/>
<circle cx="408.5" cy="47.3" r="3.25" fill="url(#gD)"/>
<circle cx="407.0" cy="47.0" r="3.25" fill="url(#gD)"/>
<circle cx="405.5" cy="47.2" r="3.25" fill="url(#gD)"/>
<circle cx="404.0" cy="46.7" r="3.25" fill="url(#gD)"/>
<circle cx="402.5" cy="47.3" r="3.25" fill="url(#gD)"/>
<circle cx="401.0" cy="47.0" r="3.25" fill="url(#gD)"/>
<circle cx="399.5" cy="47.2" r="3.25" fill="url(#gD)"/>
<circle cx="398.0" cy="46.7" r="3.25" fill="url(#gD)"/>
<circle cx="396.5" cy="47.3" r="3.25" fill="url(#gD)"/>
<circle cx="395.0" cy="47.0" r="3.25" fill="url(#gD)"/>
<circle cx="393.5" cy="47.2" r="3.25" fill="url(#gD)"/>
<circle cx="392.0" cy="46.7" r="3.25" fill="url(#gD)"/>
<circle cx="390.5" cy="47.3" r="3.25" fill="url(#gD)"/>
<circle cx="389.0" cy="47.0" r="3.25" fill="url(#gD)"/>
<circle cx="387.5" cy="47.2" r="3.25" fill="url(#gD)"/>
<circle cx="386.0" cy="46.7" r="3.25" fill="url(#gD)"/>
<circle cx="384.5" cy="47.3" r="3.25" fill="url(#gD)"/>
<circle cx="383.0" cy="47.0" r="3.25" fill="url(#gD)"/>
<circle cx="381.5" cy="47.2" r="3.25" fill="url(#gD)"/>
<circle cx="380.0" cy="46.7" r="3.25" fill="url(#gD)"/>
<circle cx="378.5" cy="47.3" r="3.25" fill="url(#gD)"/>
<circle cx="377.0" cy="47.0" r="3.25" fill="url(#gD)"/>
<circle cx="375.5" cy="47.2" r="3.25" fill="url(#gD)"/>
<circle cx="374.0" cy="46.7" r="3.25" fill="url(#gD)"/>
<circle cx="372.5" cy="47.3" r="3.25" fill="url(#gD)"/>
<circle cx="371.0" cy="47.0" r="3.25" fill="url(#gD)"/>
<circle cx="369.5" cy="47.2" r="3.25" fill="url(#gD)"/>
<circle cx="368.0" cy="46.7" r="3.25" fill="url(#gD)"/>
<circle cx="366.5" cy="47.3" r="3.25" fill="url(#gD)"/>
<circle cx="365.0" cy="47.0" r="3.25" fill="url(#gD)"/>
<circle cx="363.5" cy="47.2" r="3.25" fill="url(#gD)"/>
<circle cx="362.0" cy="46.7" r="3.25" fill="url(#gD)"/>
<circle cx="360.5" cy="47.3" r="3.25" fill="url(#gD)"/>
<circle cx="359.0" cy="47.0" r="3.25" fill="url(#gD)"/>
<circle cx="357.5" cy="47.2" r="3.25" fill="url(#gD)"/>
<circle cx="356.0" cy="46.7" r="3.25" fill="url(#gD)"/>
<circle cx="354.5" cy="47.3" r="3.25" fill="url(#gD)"/>
<circle cx="353.0" cy="47.0" r="3.25" fill="url(#gD)"/>
<circle cx="351.5" cy="47.2" r="3.25" fill="url(#gD)"/>
<circle cx="350.0" cy="46.7" r="3.25" fill="url(#gD)"/>
<circle cx="348.5" cy="47.3" r="3.25" fill="url(#gD)"/>
<circle cx="347.0" cy="47.0" r="3.25" fill="url(#gD)"/>
<circle cx="358.6" cy="47.0" r="3.25" fill="url(#gD)"/>
<circle cx="361.8" cy="46.9" r="3.25" fill="url(#gD)"/>
<circle cx="364.7" cy="47.1" r="3.25" fill="url(#gD)"/>
<circle cx="380.7" cy="47.0" r="3.25" fill="url(#gD)"/>
<circle cx="397.5" cy="47.0" r="3.25" fill="url(#gD)"/>
<circle cx="402.5" cy="47.1" r="3.25" fill="url(#gD)"/>
<circle cx="406.2" cy="47.0" r="3.25" fill="url(#gD)"/>
<circle cx="409.1" cy="47.0" r="3.25" fill="url(#gD)"/>
<circle cx="382.0" cy="49.9" r="3.25" fill="url(#gD)"/>
<circle cx="389.4" cy="43.9" r="3.25" fill="url(#gD)"/>
<circle cx="386.0" cy="46.0" r="3.25" fill="url(#gD)"/>
<circle cx="417.8" cy="47.3" r="3.25" fill="url(#gD)"/>
<circle cx="423.1" cy="54.2" r="3.25" fill="url(#gD)"/>
<circle cx="427.4" cy="57.8" r="3.25" fill="url(#gD)"/>
<circle cx="431.5" cy="76.0" r="3.25" fill="url(#gD)"/>
<circle cx="354.3" cy="90.0" r="3.25" fill="url(#gD)"/>
<circle cx="355.0" cy="93.4" r="3.25" fill="url(#gD)"/>
<circle cx="355.5" cy="98.0" r="3.25" fill="url(#gD)"/>
<circle cx="355.5" cy="103.8" r="3.25" fill="url(#gD)"/>
<circle cx="359.2" cy="103.8" r="3.25" fill="url(#gD)"/>
<circle cx="363.8" cy="103.4" r="3.25" fill="url(#gD)"/>
<circle cx="368.3" cy="104.1" r="3.25" fill="url(#gD)"/>
<circle cx="372.9" cy="105.2" r="3.25" fill="url(#gD)"/>
<circle cx="376.6" cy="106.5" r="3.25" fill="url(#gD)"/>
<circle cx="380.2" cy="108.3" r="3.25" fill="url(#gD)"/>
<circle cx="383.9" cy="108.3" r="3.25" fill="url(#gD)"/>
<circle cx="386.6" cy="111.0" r="3.25" fill="url(#gD)"/>
<circle cx="389.4" cy="114.7" r="3.25" fill="url(#gD)"/>
<circle cx="393.0" cy="117.5" r="3.25" fill="url(#gD)"/>
<circle cx="392.0" cy="123.8" r="3.25" fill="url(#gD)"/>
<circle cx="396.5" cy="128.3" r="3.25" fill="url(#gD)"/>
<circle cx="402.0" cy="127.4" r="3.25" fill="url(#gD)"/>
<circle cx="403.8" cy="132.9" r="3.25" fill="url(#gD)"/>
<circle cx="408.4" cy="133.8" r="3.25" fill="url(#gD)"/>
<circle cx="413.0" cy="132.0" r="3.25" fill="url(#gD)"/>
<circle cx="415.7" cy="136.6" r="3.25" fill="url(#gD)"/>
<circle cx="419.4" cy="137.5" r="3.25" fill="url(#gD)"/>
<circle cx="421.2" cy="142.0" r="3.25" fill="url(#gD)"/>
<circle cx="427.5" cy="151.5" r="3.25" fill="url(#gD)"/>
<circle cx="435.6" cy="161.6" r="3.25" fill="url(#gD)"/>
<circle cx="435.6" cy="165.7" r="3.25" fill="url(#gD)"/>
<circle cx="380.2" cy="112.9" r="3.25" fill="url(#gD)"/>
<circle cx="383.9" cy="115.6" r="3.25" fill="url(#gD)"/>
<circle cx="373.7" cy="104.6" r="3.25" fill="url(#gD)"/>
<circle cx="378.2" cy="106.4" r="3.25" fill="url(#gD)"/>
<circle cx="386.5" cy="115.5" r="3.25" fill="url(#gD)"/>
<circle cx="390.1" cy="118.3" r="3.25" fill="url(#gD)"/>
<circle cx="362.0" cy="106.0" r="3.25" fill="url(#gD)"/>
<circle cx="367.0" cy="107.5" r="3.25" fill="url(#gD)"/>
<circle cx="372.0" cy="109.0" r="3.25" fill="url(#gD)"/>
<circle cx="376.0" cy="110.5" r="3.25" fill="url(#gD)"/>
<circle cx="385.0" cy="113.0" r="3.25" fill="url(#gD)"/>
<circle cx="389.0" cy="112.0" r="3.25" fill="url(#gD)"/>
<circle cx="393.0" cy="121.0" r="3.25" fill="url(#gD)"/>
<circle cx="435.6" cy="165.7" r="3.25" fill="url(#gD)"/>
<circle cx="443.3" cy="148.4" r="3.25" fill="url(#gD)"/>
<circle cx="450.6" cy="134.7" r="3.25" fill="url(#gD)"/>
<circle cx="454.3" cy="132.9" r="3.25" fill="url(#gD)"/>
<circle cx="457.9" cy="129.2" r="3.25" fill="url(#gD)"/>
<circle cx="462.5" cy="126.5" r="3.25" fill="url(#gD)"/>
<circle cx="468.0" cy="126.5" r="3.25" fill="url(#gD)"/>
<circle cx="475.3" cy="117.3" r="3.25" fill="url(#gD)"/>
<circle cx="479.9" cy="123.7" r="3.25" fill="url(#gD)"/>
<circle cx="476.8" cy="118.4" r="3.25" fill="url(#gD)"/>
<circle cx="481.4" cy="116.6" r="3.25" fill="url(#gD)"/>
<circle cx="482.3" cy="108.3" r="3.25" fill="url(#gD)"/>
<circle cx="486.0" cy="112.9" r="3.25" fill="url(#gD)"/>
<circle cx="491.5" cy="105.6" r="3.25" fill="url(#gD)"/>
<circle cx="493.3" cy="110.2" r="3.25" fill="url(#gD)"/>
<circle cx="495.1" cy="119.3" r="3.25" fill="url(#gD)"/>
<circle cx="498.8" cy="111.1" r="3.25" fill="url(#gD)"/>
<circle cx="502.4" cy="108.3" r="3.25" fill="url(#gD)"/>
<circle cx="506.1" cy="106.5" r="3.25" fill="url(#gD)"/>
<circle cx="509.7" cy="102.9" r="3.25" fill="url(#gD)"/>
<circle cx="512.5" cy="101.9" r="3.25" fill="url(#gD)"/>
<circle cx="515.2" cy="102.9" r="3.25" fill="url(#gD)"/>
<circle cx="513.4" cy="97.4" r="3.25" fill="url(#gD)"/>
<circle cx="516.1" cy="93.7" r="3.25" fill="url(#gD)"/>
<circle cx="517.0" cy="91.0" r="3.25" fill="url(#gD)"/>
<circle cx="462.0" cy="126.0" r="3.25" fill="url(#gD)"/>
<circle cx="467.0" cy="126.0" r="3.25" fill="url(#gD)"/>
<circle cx="451.0" cy="136.0" r="3.25" fill="url(#gD)"/>
<circle cx="455.0" cy="133.0" r="3.25" fill="url(#gD)"/>
<circle cx="478.0" cy="114.0" r="3.25" fill="url(#gD)"/>
<circle cx="484.0" cy="111.0" r="3.25" fill="url(#gD)"/>
<circle cx="488.0" cy="109.0" r="3.25" fill="url(#gD)"/>
<circle cx="492.0" cy="108.0" r="3.25" fill="url(#gD)"/>
<circle cx="497.0" cy="107.0" r="3.25" fill="url(#gD)"/>
<circle cx="501.0" cy="106.0" r="3.25" fill="url(#gD)"/>
<circle cx="505.0" cy="104.0" r="3.25" fill="url(#gD)"/>
<circle cx="509.0" cy="101.0" r="3.25" fill="url(#gD)"/>
<circle cx="513.0" cy="100.0" r="3.25" fill="url(#gD)"/>
<circle cx="487.0" cy="116.0" r="3.25" fill="url(#gD)"/>
<circle cx="491.0" cy="114.0" r="3.25" fill="url(#gD)"/>
<circle cx="483.0" cy="120.0" r="3.25" fill="url(#gD)"/>
<circle cx="472.0" cy="121.0" r="3.25" fill="url(#gD)"/>
<circle cx="470.0" cy="124.0" r="3.25" fill="url(#gD)"/>
<circle cx="523.0" cy="47.5" r="3.25" fill="url(#gD)"/>
<circle cx="521.5" cy="47.2" r="3.25" fill="url(#gD)"/>
<circle cx="520.0" cy="47.4" r="3.25" fill="url(#gD)"/>
<circle cx="518.5" cy="47.0" r="3.25" fill="url(#gD)"/>
<circle cx="517.0" cy="47.5" r="3.25" fill="url(#gD)"/>
<circle cx="515.5" cy="47.2" r="3.25" fill="url(#gD)"/>
<circle cx="514.0" cy="47.4" r="3.25" fill="url(#gD)"/>
<circle cx="512.5" cy="47.0" r="3.25" fill="url(#gD)"/>
<circle cx="511.0" cy="47.5" r="3.25" fill="url(#gD)"/>
<circle cx="509.5" cy="47.2" r="3.25" fill="url(#gD)"/>
<circle cx="508.0" cy="47.4" r="3.25" fill="url(#gD)"/>
<circle cx="506.5" cy="47.0" r="3.25" fill="url(#gD)"/>
<circle cx="505.0" cy="47.5" r="3.25" fill="url(#gD)"/>
<circle cx="503.5" cy="47.2" r="3.25" fill="url(#gD)"/>
<circle cx="502.0" cy="47.4" r="3.25" fill="url(#gD)"/>
<circle cx="500.5" cy="47.0" r="3.25" fill="url(#gD)"/>
<circle cx="499.0" cy="47.5" r="3.25" fill="url(#gD)"/>
<circle cx="497.5" cy="47.2" r="3.25" fill="url(#gD)"/>
<circle cx="496.0" cy="47.4" r="3.25" fill="url(#gD)"/>
<circle cx="494.5" cy="47.0" r="3.25" fill="url(#gD)"/>
<circle cx="493.0" cy="47.5" r="3.25" fill="url(#gD)"/>
<circle cx="491.5" cy="47.2" r="3.25" fill="url(#gD)"/>
<circle cx="490.0" cy="47.4" r="3.25" fill="url(#gD)"/>
<circle cx="488.5" cy="47.0" r="3.25" fill="url(#gD)"/>
<circle cx="487.0" cy="47.5" r="3.25" fill="url(#gD)"/>
<circle cx="485.5" cy="47.2" r="3.25" fill="url(#gD)"/>
<circle cx="484.0" cy="47.4" r="3.25" fill="url(#gD)"/>
<circle cx="482.5" cy="47.0" r="3.25" fill="url(#gD)"/>
<circle cx="481.0" cy="47.5" r="3.25" fill="url(#gD)"/>
<circle cx="479.5" cy="47.2" r="3.25" fill="url(#gD)"/>
<circle cx="506.3" cy="47.2" r="3.25" fill="url(#gD)"/>
<circle cx="477.5" cy="48.2" r="3.25" fill="url(#gD)"/>
<circle cx="475.4" cy="49.8" r="3.25" fill="url(#gD)"/>
<circle cx="472.5" cy="53.5" r="3.25" fill="url(#gD)"/>
<circle cx="468.9" cy="55.4" r="3.25" fill="url(#gD)"/>
<circle cx="464.3" cy="52.6" r="3.25" fill="url(#gD)"/>
<circle cx="461.6" cy="65.4" r="3.25" fill="url(#gD)"/>
<circle cx="453.3" cy="70.9" r="3.25" fill="url(#gD)"/>
<circle cx="447.9" cy="76.6" r="3.25" fill="url(#gD)"/>
<circle cx="443.4" cy="83.4" r="3.25" fill="url(#gD)"/>
<circle cx="439.4" cy="86.8" r="3.25" fill="url(#gD)"/>
<text x="336.5" y="138.6" font-family="'Liberation Serif', 'Times New Roman', serif" font-weight="bold" font-size="10.3">ON to OFF</text>
<text x="484.5" y="137.6" font-family="'Liberation Serif', 'Times New Roman', serif" font-weight="bold" font-size="10.1">OFF to ON</text>
<text x="397" y="186.8" font-family="'Liberation Serif', 'Times New Roman', serif" font-weight="bold" font-size="11">Humidity Response</text>
<rect x="335" y="149.5" width="60.5" height="43.5" fill="#fff" stroke="#b8b8b8" stroke-width="0.8"/>
<line x1="335.6" y1="158.9" x2="355.7" y2="158.9" stroke="#111" stroke-width="1.4"/>
<circle cx="345.7" cy="158.9" r="3.1" fill="url(#gO)"/>
<text x="358" y="162.3" font-family="'Liberation Sans', Arial, sans-serif" font-weight="bold" font-size="10.6">25 <tspan font-size="7" dy="-4.2">%</tspan><tspan dy="4.2">RH</tspan></text>
<line x1="335.6" y1="173.0" x2="355.7" y2="173.0" stroke="#111" stroke-width="1.4"/>
<circle cx="345.7" cy="173.0" r="3.1" fill="url(#gM)"/>
<text x="358" y="176.4" font-family="'Liberation Sans', Arial, sans-serif" font-weight="bold" font-size="10.6">45 <tspan font-size="7" dy="-4.2">%</tspan><tspan dy="4.2">RH</tspan></text>
<line x1="335.6" y1="186.8" x2="355.7" y2="186.8" stroke="#111" stroke-width="1.4"/>
<circle cx="345.7" cy="186.8" r="3.1" fill="url(#gD)"/>
<text x="358" y="190.2" font-family="'Liberation Sans', Arial, sans-serif" font-weight="bold" font-size="10.6">60 <tspan font-size="7" dy="-4.2">%</tspan><tspan dy="4.2">RH</tspan></text>
</svg>
</body></html>
